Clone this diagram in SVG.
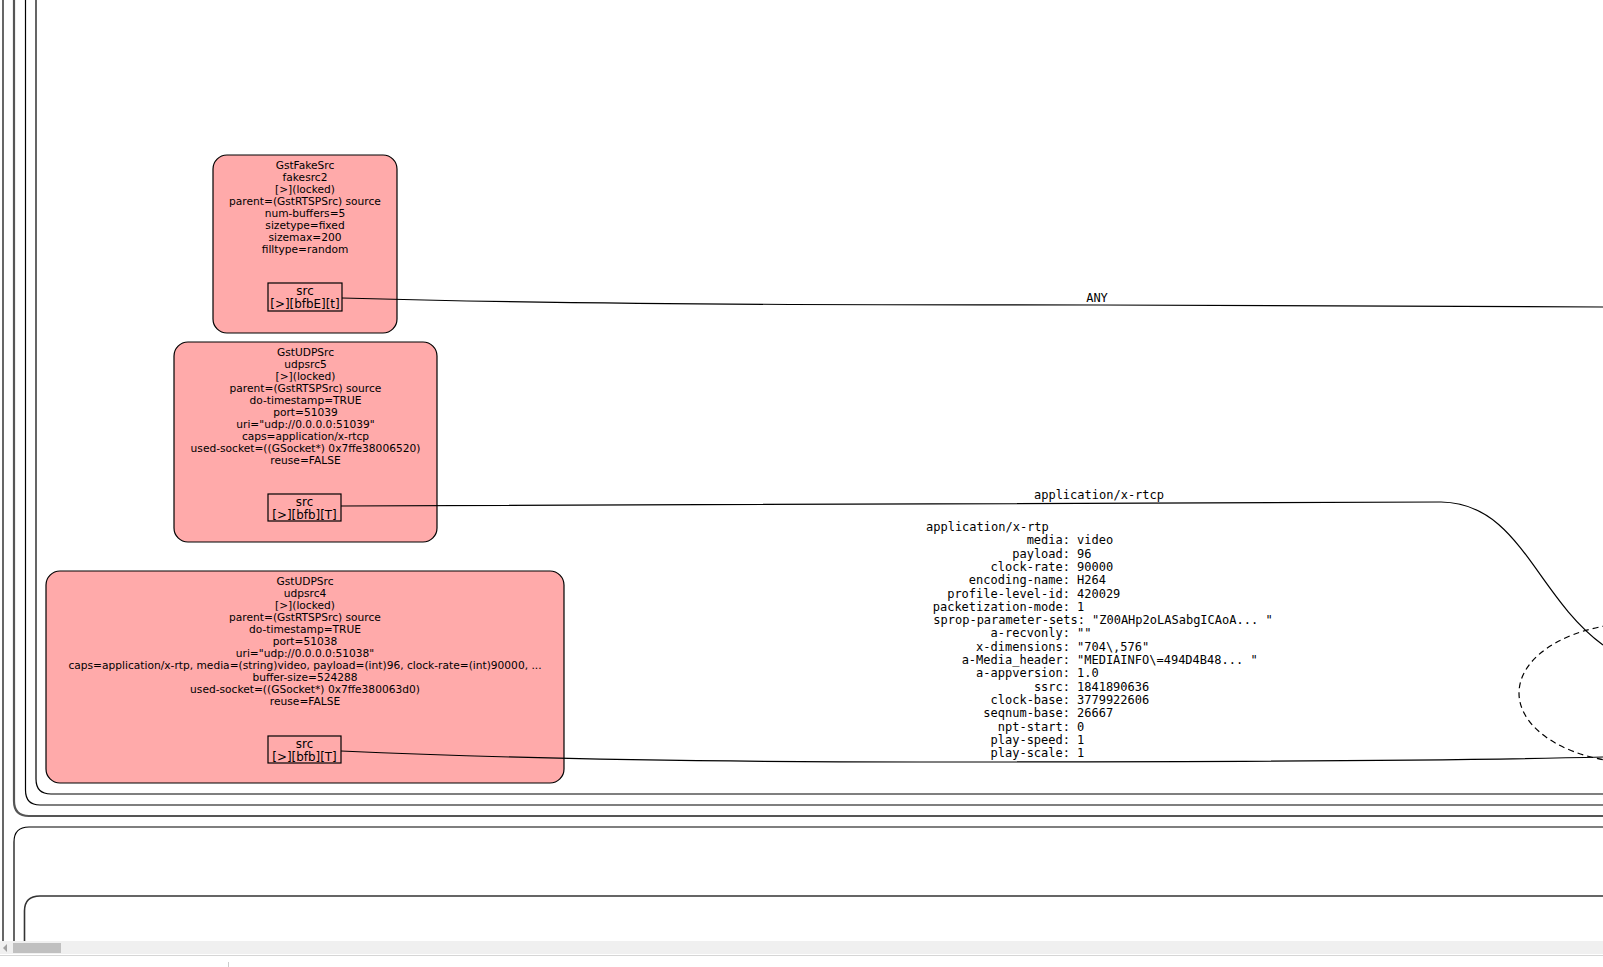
<svg xmlns="http://www.w3.org/2000/svg" width="1603" height="967" viewBox="0 0 1603 967">
<style>
.frame{fill:none;stroke:#000;stroke-width:1.2}
.node{fill:#ffaaaa;stroke:#000;stroke-width:1.2}
.pad{fill:#ffaaaa;stroke:#000;stroke-width:1.2}
.t{font-family:"DejaVu Sans",sans-serif;font-size:10.65px;text-anchor:middle;fill:#000}
.p{font-family:"DejaVu Sans",sans-serif;font-size:11.9px;text-anchor:middle;fill:#000}
.m{font-family:"DejaVu Sans Mono",monospace;font-size:12px;fill:#000}
.k{text-anchor:end}
.e{fill:none;stroke:#000;stroke-width:1.2}
</style>
<rect width="1603" height="967" fill="#fff"/>
<g id="frames">
<line x1="3" y1="0" x2="3" y2="942" class="frame"/>
<path d="M14,0 V801 Q14,816 29,816 H1603" fill="none" stroke="#555" stroke-width="2.2"/>
<path d="M25.5,0 V790 Q25.5,805 40,805 H1603" class="frame"/>
<path d="M36,0 V779 Q36,794 51,794 H1603" class="frame"/>
<path d="M14,942 V842 Q14,827 29,827 H1603" class="frame"/>
<path d="M24.5,942 V911 Q24.5,896 40,896 H1603" fill="none" stroke="#333" stroke-width="1.6"/>
</g>
<g id="fakesrc2">
<rect x="213" y="155" width="184" height="178" rx="14" class="node"/>
<text class="t"><tspan x="305" y="169">GstFakeSrc</tspan><tspan x="305" y="181">fakesrc2</tspan><tspan x="305" y="193">[&gt;](locked)</tspan><tspan x="305" y="205">parent=(GstRTSPSrc) source</tspan><tspan x="305" y="217">num-buffers=5</tspan><tspan x="305" y="229">sizetype=fixed</tspan><tspan x="305" y="241">sizemax=200</tspan><tspan x="305" y="253">filltype=random</tspan></text>
<rect x="268" y="283" width="74" height="28" class="pad"/>
<text class="p"><tspan x="305" y="294.5">src</tspan><tspan x="305" y="307.5">[&gt;][bfbE][t]</tspan></text>
</g>
<g id="udpsrc5">
<rect x="174" y="342" width="263" height="200" rx="14" class="node"/>
<text class="t"><tspan x="305.5" y="356">GstUDPSrc</tspan><tspan x="305.5" y="368">udpsrc5</tspan><tspan x="305.5" y="380">[&gt;](locked)</tspan><tspan x="305.5" y="392">parent=(GstRTSPSrc) source</tspan><tspan x="305.5" y="404">do-timestamp=TRUE</tspan><tspan x="305.5" y="416">port=51039</tspan><tspan x="305.5" y="428">uri="udp://0.0.0.0:51039"</tspan><tspan x="305.5" y="440">caps=application/x-rtcp</tspan><tspan x="305.5" y="452">used-socket=((GSocket*) 0x7ffe38006520)</tspan><tspan x="305.5" y="464">reuse=FALSE</tspan></text>
<rect x="268" y="494" width="73" height="27" class="pad"/>
<text class="p"><tspan x="304.5" y="505.5">src</tspan><tspan x="304.5" y="518.5">[&gt;][bfb][T]</tspan></text>
</g>
<g id="udpsrc4">
<rect x="46" y="571" width="518" height="212" rx="14" class="node"/>
<text class="t"><tspan x="305" y="585">GstUDPSrc</tspan><tspan x="305" y="597">udpsrc4</tspan><tspan x="305" y="609">[&gt;](locked)</tspan><tspan x="305" y="621">parent=(GstRTSPSrc) source</tspan><tspan x="305" y="633">do-timestamp=TRUE</tspan><tspan x="305" y="645">port=51038</tspan><tspan x="305" y="657">uri="udp://0.0.0.0:51038"</tspan><tspan x="305" y="669">caps=application/x-rtp, media=(string)video, payload=(int)96, clock-rate=(int)90000, ...</tspan><tspan x="305" y="681">buffer-size=524288</tspan><tspan x="305" y="693">used-socket=((GSocket*) 0x7ffe380063d0)</tspan><tspan x="305" y="705">reuse=FALSE</tspan></text>
<rect x="268" y="736" width="73" height="27" class="pad"/>
<text class="p"><tspan x="304.5" y="747.5">src</tspan><tspan x="304.5" y="760.5">[&gt;][bfb][T]</tspan></text>
</g>
<g id="connectors">
<path d="M342,298 C520,303 700,305 1100,305 L1603,307" class="e"/>
<path d="M341,506 C500,503 700,502 1441,502 C1520,503 1535,595 1603,645" class="e"/>
<path d="M341,751 C520,759 700,762 920,762 C1200,762 1450,761 1603,757" class="e"/>
<ellipse cx="1640" cy="693" rx="121" ry="70" fill="none" stroke="#000" stroke-width="1.2" stroke-dasharray="6,4"/>
<text class="m" x="1097" y="302" text-anchor="middle">ANY</text>
<text class="m" x="1099" y="499" text-anchor="middle">application/x-rtcp</text>
<text class="m" x="926" y="531">application/x-rtp</text>
<text class="m k" x="1070"><tspan x="1070" y="544.3">media:</tspan><tspan x="1070" y="557.6">payload:</tspan><tspan x="1070" y="570.9">clock-rate:</tspan><tspan x="1070" y="584.2">encoding-name:</tspan><tspan x="1070" y="597.5">profile-level-id:</tspan><tspan x="1070" y="610.8">packetization-mode:</tspan><tspan x="1085" y="624.1">sprop-parameter-sets:</tspan><tspan x="1070" y="637.4">a-recvonly:</tspan><tspan x="1070" y="650.7">x-dimensions:</tspan><tspan x="1070" y="664">a-Media_header:</tspan><tspan x="1070" y="677.3">a-appversion:</tspan><tspan x="1070" y="690.6">ssrc:</tspan><tspan x="1070" y="703.9">clock-base:</tspan><tspan x="1070" y="717.2">seqnum-base:</tspan><tspan x="1070" y="730.5">npt-start:</tspan><tspan x="1070" y="743.8">play-speed:</tspan><tspan x="1070" y="757.1">play-scale:</tspan></text>
<text class="m"><tspan x="1077" y="544.3">video</tspan><tspan x="1077" y="557.6">96</tspan><tspan x="1077" y="570.9">90000</tspan><tspan x="1077" y="584.2">H264</tspan><tspan x="1077" y="597.5">420029</tspan><tspan x="1077" y="610.8">1</tspan><tspan x="1092" y="624.1">"Z00AHp2oLASabgICAoA... "</tspan><tspan x="1077" y="637.4">""</tspan><tspan x="1077" y="650.7">"704\,576"</tspan><tspan x="1077" y="664">"MEDIAINFO\=494D4B48... "</tspan><tspan x="1077" y="677.3">1.0</tspan><tspan x="1077" y="690.6">1841890636</tspan><tspan x="1077" y="703.9">3779922606</tspan><tspan x="1077" y="717.2">26667</tspan><tspan x="1077" y="730.5">0</tspan><tspan x="1077" y="743.8">1</tspan><tspan x="1077" y="757.1">1</tspan></text>
</g>
<g id="scrollbar">
<rect x="0" y="941" width="1603" height="13" fill="#f0f0f0"/>
<rect x="13" y="943" width="48" height="10" fill="#c0c0c0"/>
<path d="M7,944 L3,948 L7,952 Z" fill="#a0a0a0"/>
<line x1="0" y1="955.5" x2="1603" y2="955.5" stroke="#d6d6d6"/>
<line x1="228.5" y1="962" x2="228.5" y2="967" stroke="#ccc"/>
</g>
</svg>
